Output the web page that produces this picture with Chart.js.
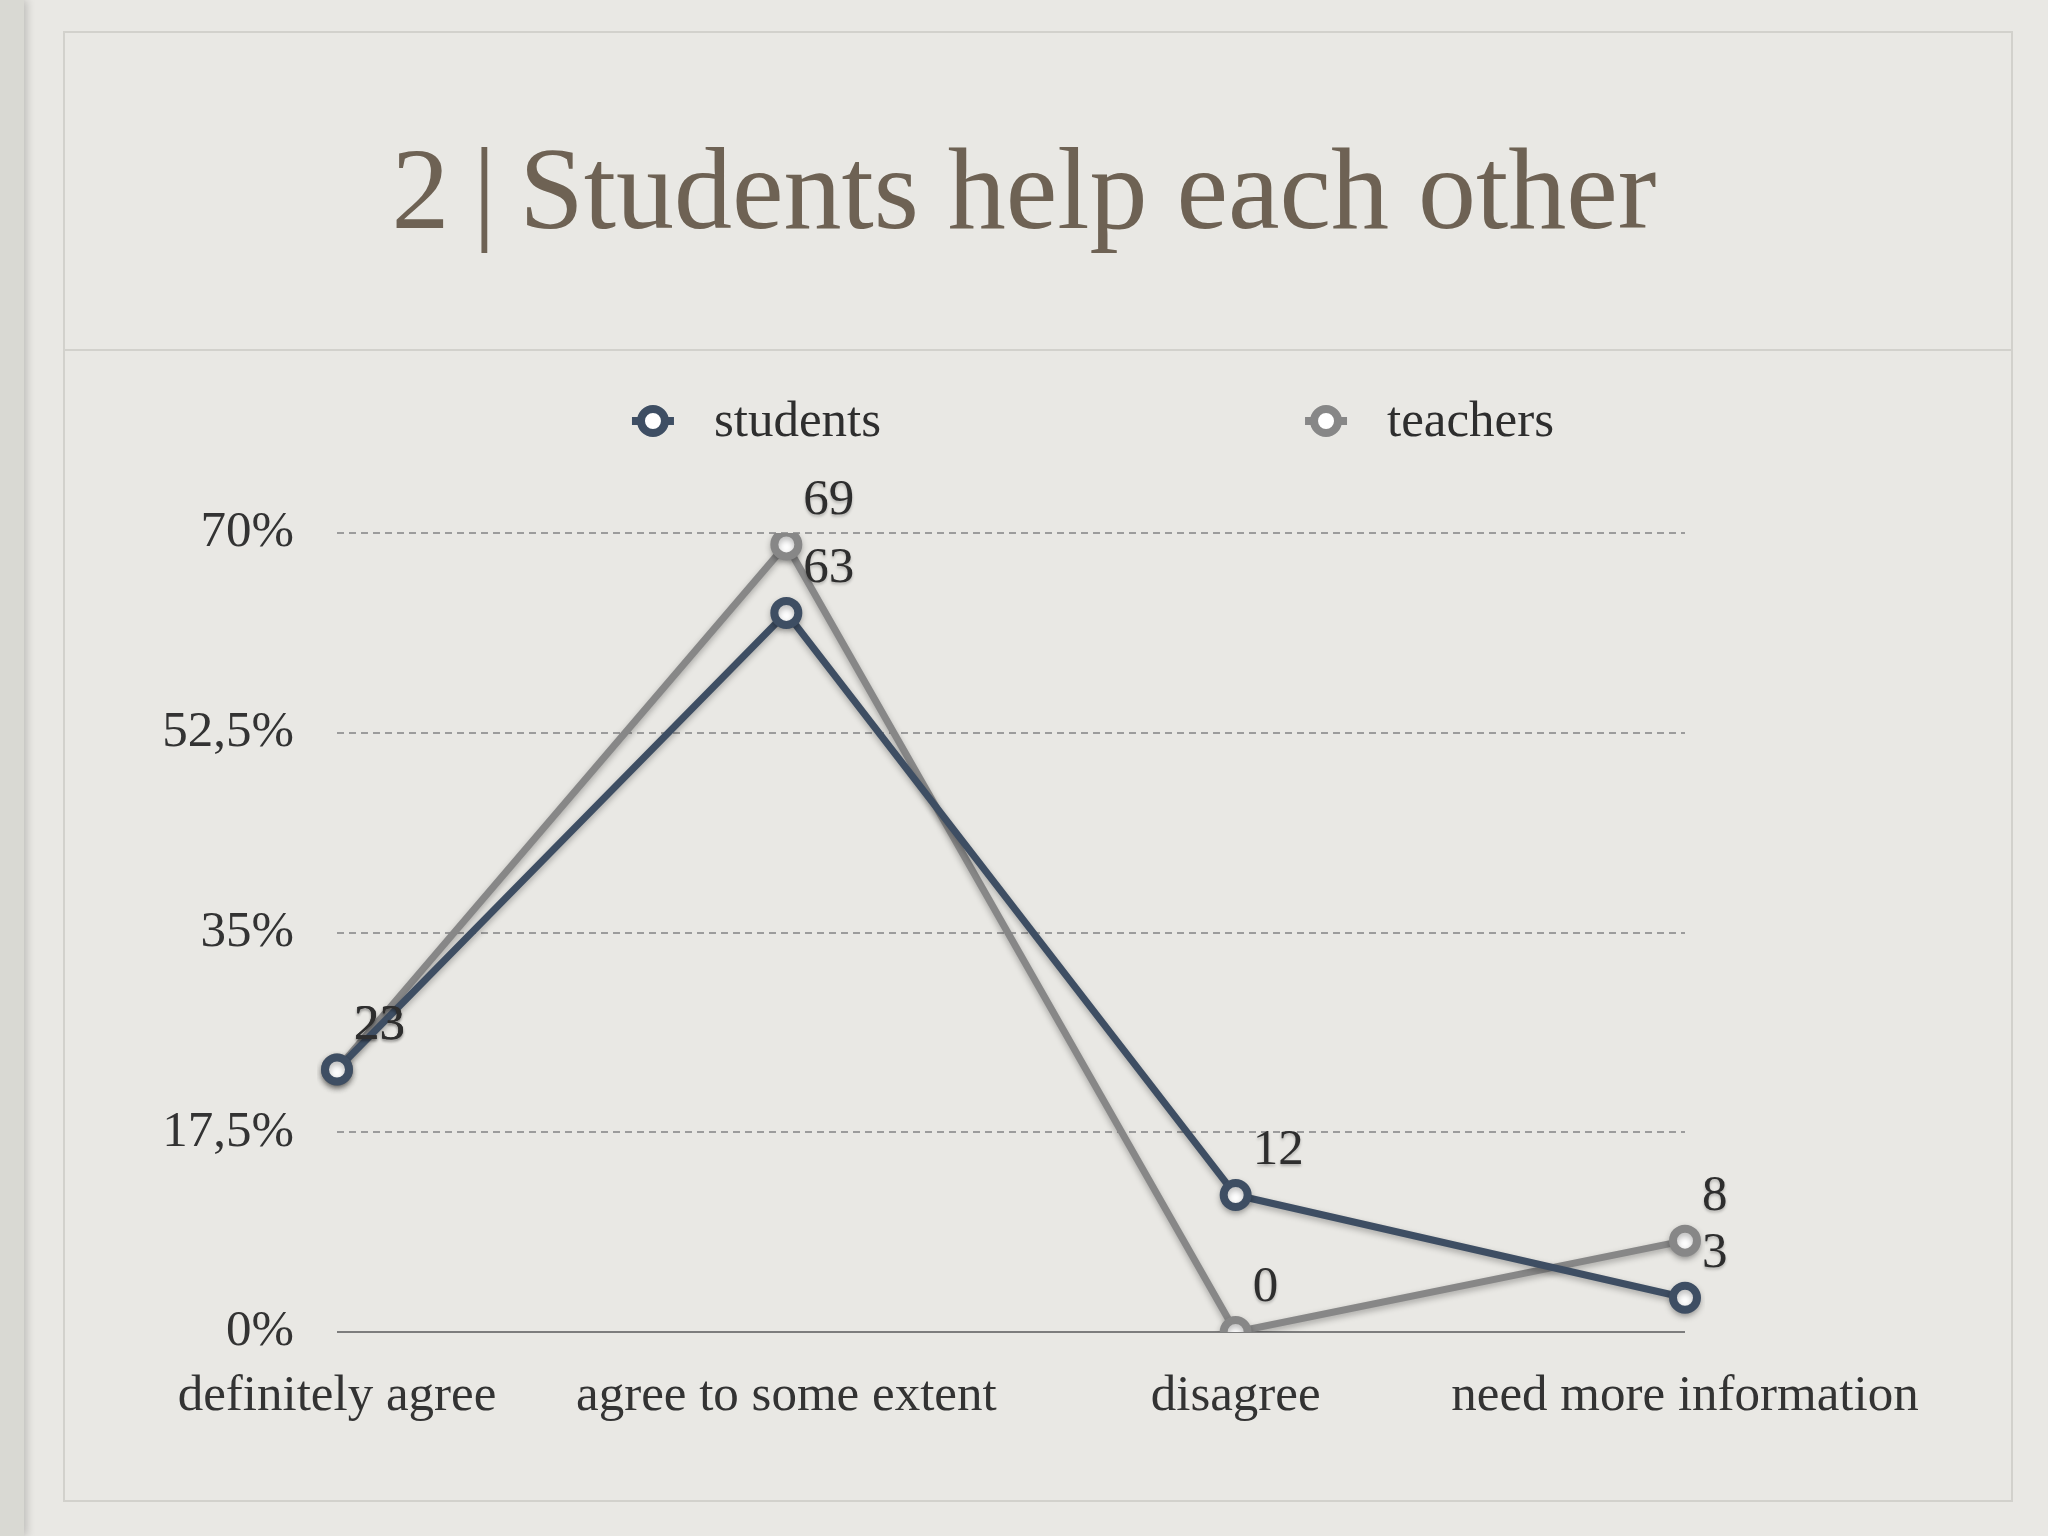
<!DOCTYPE html>
<html>
<head>
<meta charset="utf-8">
<title>2|Students help each other</title>
<script src="https://cdn.jsdelivr.net/npm/chart.js@4"></script>
<style>
  html, body { margin: 0; padding: 0; }
  body { width: 2048px; height: 1536px; position: relative; overflow: hidden; background: #e9e8e4; font-family: "Liberation Serif", serif; }
  #tira { position: absolute; left: 0; top: 0; width: 24px; height: 1536px; background: #d9d9d3; box-shadow: 3px 0 8px rgba(0,0,0,0.18); }
  #marco { position: absolute; left: 63px; top: 31px; width: 1950px; height: 1471px; border: 2px solid #d2d1cc; box-sizing: border-box; }
  #linea { position: absolute; left: 63px; top: 349px; width: 1950px; height: 2px; background: #d2d1cc; }
  #titulo { position: absolute; left: 0; width: 2048px; top: 131px; text-align: center; font-size: 116px; line-height: 116px; color: #6e6254; white-space: nowrap; }
  #grafico { position: absolute; left: 0; top: 0; }
</style>
</head>
<body>
<div id="tira"></div>
<div id="marco"></div>
<div id="linea"></div>
<div id="titulo">2&#8201;|&#8201;Students help each other</div>
<canvas id="grafico" width="2048" height="1536"></canvas>
<script>
// datos sacados de la imagen
const categorias = ["definitely agree", "agree to some extent", "disagree", "need more information"];
const estudiantes = [23, 63, 12, 3];
const profesores = [23, 69, 0, 8];
const ticksY = [0, 17.5, 35, 52.5, 70];

const azul = "#3e4e63";
const gris = "#878787";
const fuente = "Liberation Serif";
const tam = 51;

// sombra suave debajo de las lineas
const sombra = {
  id: "sombra",
  beforeDatasetDraw(chart) {
    const ctx = chart.ctx;
    ctx.save();
    ctx.shadowColor = "rgba(0,0,0,0.28)";
    ctx.shadowBlur = 6;
    ctx.shadowOffsetY = 3;
  },
  afterDatasetDraw(chart) {
    chart.ctx.restore();
  }
};

// numeros encima de cada punto
const etiquetas = {
  id: "etiquetas",
  afterDatasetsDraw(chart) {
    const ctx = chart.ctx;
    ctx.save();
    ctx.font = tam + "px '" + fuente + "'";
    ctx.fillStyle = "#2e2e2e";
    ctx.textAlign = "left";
    ctx.textBaseline = "middle";
    ctx.shadowColor = "rgba(0,0,0,0.25)";
    ctx.shadowBlur = 3;
    ctx.shadowOffsetY = 2;
    chart.data.datasets.forEach((ds, i) => {
      const meta = chart.getDatasetMeta(i);
      meta.data.forEach((p, j) => {
        ctx.fillText(String(ds.data[j]), p.x + 17, p.y - 44);
      });
    });
    ctx.restore();
  }
};

// leyenda dibujada a mano (linea con circulo)
const leyenda = {
  id: "leyenda",
  afterDraw(chart) {
    const ctx = chart.ctx;
    const area = chart.chartArea;
    const posiciones = [0.2344, 0.7337];
    const y = 421;
    ctx.save();
    chart.data.datasets.forEach((ds, i) => {
      const x = area.left + posiciones[i] * (area.right - area.left);
      ctx.strokeStyle = ds.borderColor;
      ctx.lineWidth = 8;
      ctx.beginPath();
      ctx.moveTo(x - 21, y);
      ctx.lineTo(x + 21, y);
      ctx.stroke();
      ctx.beginPath();
      ctx.arc(x, y, 12, 0, Math.PI * 2);
      ctx.fillStyle = "#ffffff";
      ctx.fill();
      ctx.lineWidth = 8;
      ctx.stroke();
      ctx.font = tam + "px '" + fuente + "'";
      ctx.fillStyle = "#2e2e2e";
      ctx.textAlign = "left";
      ctx.textBaseline = "alphabetic";
      ctx.fillText(ds.label, x + 61, y + 15);
    });
    ctx.restore();
  }
};

const config = {
  type: "line",
  data: {
    labels: categorias,
    datasets: [
      {
        label: "students",
        data: estudiantes,
        borderColor: azul,
        backgroundColor: "#ffffff",
        pointBackgroundColor: "#ffffff",
        pointBorderColor: azul,
        borderWidth: 7,
        pointRadius: 12,
        pointBorderWidth: 8,
        tension: 0
      },
      {
        label: "teachers",
        data: profesores,
        borderColor: gris,
        backgroundColor: "#ffffff",
        pointBackgroundColor: "#ffffff",
        pointBorderColor: gris,
        borderWidth: 7,
        pointRadius: 12,
        pointBorderWidth: 8,
        tension: 0
      }
    ]
  },
  options: {
    responsive: false,
    animation: false,
    devicePixelRatio: 1,
    layout: { padding: { top: 533, left: 0, right: 363, bottom: 114 } },
    plugins: {
      legend: { display: false },
      title: { display: false },
      tooltip: { enabled: false }
    },
    scales: {
      x: {
        offset: false,
        grid: { display: false },
        border: { display: false },
        ticks: {
          color: "#333333",
          font: { family: fuente, size: tam },
          padding: 26,
          maxRotation: 0,
          autoSkip: false
        },
        afterFit(scale) { scale.height = 90; }
      },
      y: {
        min: 0,
        max: 70,
        afterBuildTicks(scale) { scale.ticks = ticksY.map(v => ({ value: v })); },
        grid: {
          color: ctx => ctx.tick && ctx.tick.value === 0 ? "#7d7d7d" : "#9c9c9c",
          lineWidth: 2,
          drawTicks: false
        },
        border: {
          display: false,
          dash: ctx => ctx.tick && ctx.tick.value === 0 ? [] : [7, 5]
        },
        ticks: {
          color: "#333333",
          font: { family: fuente, size: tam },
          padding: 43,
          callback: v => String(v).replace(".", ",") + "%"
        },
        afterFit(scale) { scale.width = 337; }
      }
    }
  },
  plugins: [sombra, etiquetas, leyenda]
};

new Chart(document.getElementById("grafico"), config);
</script>
</body>
</html>
